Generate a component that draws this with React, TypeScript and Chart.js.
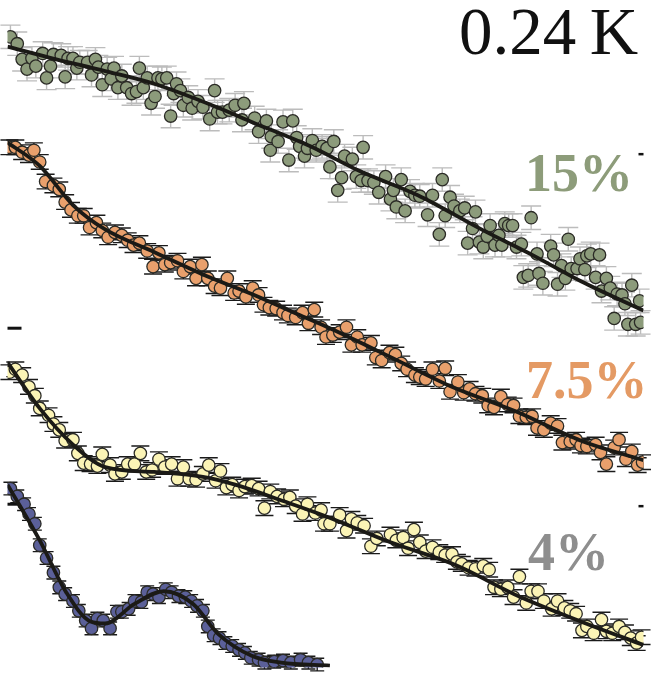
import React, { useEffect, useRef } from "react";
import { Chart, registerables } from "chart.js";

Chart.register(...registerables);

// ---- data (x: arbitrary units, y: offset intensity) ----
const green15: [number, number][] = [
  [0.03,6.45],[0.10,6.38],[0.15,6.22],[0.20,6.12],[0.25,6.23],[0.29,6.15],[0.36,6.28],[0.40,6.03],[0.44,6.15],[0.47,6.27],
  [0.55,6.26],[0.59,6.04],[0.62,6.23],[0.67,6.23],[0.71,6.13],[0.74,6.19],[0.82,6.19],[0.86,6.06],[0.90,6.22],[0.93,6.14],
  [0.97,5.96],[1.02,6.12],[1.06,6.02],[1.09,6.13],[1.13,5.93],[1.17,6.05],[1.22,5.93],[1.27,5.87],[1.32,5.89],[1.35,6.13],
  [1.39,5.93],[1.43,6.03],[1.47,5.77],[1.51,5.84],[1.54,6.03],[1.58,6.02],[1.63,6.03],[1.67,5.64],[1.70,5.87],[1.73,5.97],
  [1.77,5.90],[1.80,5.75],[1.85,5.83],[1.89,5.72],[1.95,5.79],[2.00,5.73],[2.07,5.61],[2.12,5.90],[2.15,5.68],
  [2.20,5.68],[2.27,5.70],[2.33,5.75],[2.42,5.77],[2.40,5.60],[2.53,5.62],[2.57,5.48],[2.65,5.59],[2.70,5.43],[2.69,5.29],
  [2.77,5.38],[2.82,5.58],[2.92,5.59],[2.88,5.19],[2.96,5.42],[2.99,5.33],[3.04,5.23],[3.07,5.31],[3.12,5.39],[3.16,5.29],
  [3.22,5.33],[3.27,5.31],[3.34,5.38],[3.30,5.12],[3.42,5.01],[3.38,4.88],[3.45,5.23],[3.53,5.20],[3.64,5.32],[3.57,5.02],
  [3.62,4.98],[3.69,4.98],[3.75,4.96],[3.80,4.86],[3.87,5.02],[3.92,4.79],[3.95,4.88],[3.98,4.71],[4.03,4.99],[4.07,4.67],
  [4.12,4.87],[4.17,4.83],
  [4.22,4.82],[4.30,4.63],[4.35,4.83],[4.45,4.99],[4.42,4.43],[4.48,4.62],[4.53,4.81],[4.57,4.72],[4.63,4.67],[4.68,4.70],
  [4.71,4.34],[4.76,4.49],[4.79,4.66],[4.83,4.35],[4.87,4.30],[4.91,4.41],[4.94,4.52],[4.99,4.32],[5.03,4.42],[5.06,4.32],
  [5.09,4.54],[5.13,4.52],[5.17,4.52],[5.21,4.30],[5.26,4.33],[5.28,3.99],[5.33,4.01],[5.36,4.60],[5.42,4.23],[5.44,4.03],
  [5.48,3.93],[5.56,4.31],[5.59,4.22],[5.63,3.92],[5.67,4.11],[5.71,3.98],[5.74,4.38],[5.77,4.08],[5.83,4.08],[5.86,4.18],
  [5.91,4.07],[5.93,4.21],[5.97,4.23],[6.02,3.99],[6.06,4.22],[6.08,3.85],[6.13,3.98],[6.17,3.88],[6.21,3.57],[6.24,3.82],
  [6.29,3.81],[6.32,3.72],[6.35,3.51],[6.39,3.91],[6.43,3.51],[6.47,3.75],[6.48,3.53],
];
const green15Fit: [number, number][] = [
  [0,6.35],[0.5,6.22],[1.0,6.10],[1.5,5.97],[2.17,5.72],[2.5,5.58],[3.1,5.33],[3.6,5.08],[4.2,4.83],[4.87,4.47],
  [5.37,4.22],[5.87,3.95],[6.51,3.65],
];
const green15Err = 0.12;

const orange75: [number, number][] = [
  [0.02,5.32],[0.08,5.32],[0.15,5.27],[0.22,5.24],[0.27,5.29],[0.33,5.17],[0.39,4.97],[0.47,4.93],[0.53,4.89],[0.59,4.76],
  [0.65,4.68],[0.72,4.62],[0.78,4.62],[0.84,4.50],[0.91,4.55],[0.97,4.47],[1.03,4.40],[1.10,4.45],[1.17,4.42],[1.23,4.37],
  [1.29,4.32],[1.35,4.34],[1.43,4.26],[1.49,4.10],[1.55,4.24],[1.61,4.12],[1.67,4.14],[1.74,4.16],[1.80,4.05],[1.87,4.10],
  [1.93,3.98],[1.99,4.12],[2.05,3.98],[2.12,3.90],[2.18,3.88],[2.25,3.98],[2.32,3.83],[2.37,3.85],[2.44,3.79],[2.51,3.88],
  [2.57,3.81],[2.62,3.71],[2.68,3.68],[2.75,3.67],[2.82,3.63],[2.87,3.60],[2.95,3.58],[3.02,3.63],[3.08,3.52],[3.14,3.66],
  [3.21,3.48],[3.26,3.38],
  [3.33,3.40],[3.40,3.43],[3.47,3.48],[3.52,3.30],[3.58,3.38],[3.63,3.30],[3.72,3.32],[3.77,3.17],[3.83,3.14],[3.91,3.22],
  [3.97,3.20],[4.03,3.11],[4.09,3.05],[4.17,2.99],[4.22,2.97],[4.28,2.95],[4.35,3.05],[4.42,2.93],[4.48,3.06],[4.53,2.82],
  [4.61,2.92],[4.67,2.81],[4.73,2.85],[4.79,2.80],[4.86,2.78],[4.92,2.68],[4.98,2.66],[5.05,2.77],[5.12,2.69],[5.18,2.68],
  [5.24,2.57],[5.31,2.56],[5.37,2.57],[5.42,2.45],[5.49,2.43],[5.56,2.50],[5.63,2.47],[5.68,2.30],[5.76,2.31],[5.82,2.33],
  [5.87,2.27],[5.93,2.26],[6.02,2.28],[6.07,2.20],[6.13,2.08],[6.21,2.25],[6.26,2.33],[6.33,2.13],[6.39,2.21],[6.45,2.07],
  [6.50,2.10],
];
const orange75Fit: [number, number][] = [
  [0,5.37],[0.33,5.13],[0.67,4.73],[1.0,4.48],[1.5,4.25],[2.0,4.02],[2.5,3.82],[3.0,3.60],[3.3,3.47],[3.87,3.20],
  [4.53,2.88],[5.2,2.62],[5.87,2.32],[6.51,2.12],
];
const orange75Err = 0.075;

const yellow4: [number, number][] = [
  [0.02,3.02],[0.08,3.05],[0.15,2.99],[0.22,2.87],[0.28,2.78],[0.33,2.65],[0.42,2.58],[0.47,2.49],[0.53,2.43],[0.59,2.32],
  [0.67,2.33],[0.72,2.19],[0.78,2.09],[0.85,2.08],[0.92,2.06],[0.97,2.18],[1.05,2.07],[1.10,1.98],[1.17,2.00],[1.23,2.08],
  [1.30,2.08],[1.36,2.19],[1.42,2.00],[1.48,2.02],[1.55,2.13],[1.61,2.05],[1.68,2.08],[1.74,1.93],[1.80,2.05],[1.86,1.93],
  [1.93,1.92],[2.00,1.98],[2.06,2.07],[2.13,1.91],[2.18,2.01],[2.24,1.84],[2.30,1.87],[2.37,1.81],[2.43,1.85],[2.50,1.86],
  [2.57,1.83],[2.63,1.63],[2.69,1.80],[2.76,1.75],[2.83,1.72],[2.89,1.74],[2.95,1.65],[3.02,1.57],[3.07,1.67],[3.15,1.58],
  [3.21,1.61],[3.24,1.47],
  [3.30,1.47],[3.40,1.56],[3.47,1.40],[3.52,1.52],[3.58,1.48],[3.65,1.45],[3.72,1.24],[3.78,1.32],[3.92,1.36],[3.98,1.30],
  [4.05,1.33],[4.10,1.22],[4.16,1.41],[4.22,1.28],[4.28,1.19],[4.35,1.23],[4.42,1.18],[4.48,1.15],[4.55,1.16],[4.60,1.08],
  [4.65,1.06],[4.72,1.02],[4.79,1.01],[4.87,1.04],[4.93,1.00],[4.98,0.82],[5.05,0.80],[5.12,0.82],[5.18,0.72],[5.24,0.93],
  [5.31,0.66],[5.36,0.78],[5.43,0.78],[5.49,0.68],[5.57,0.60],[5.63,0.68],[5.70,0.61],[5.76,0.58],[5.82,0.55],[5.88,0.38],
  [5.93,0.42],[6.00,0.35],[6.08,0.49],[6.13,0.37],[6.19,0.35],[6.26,0.42],[6.32,0.36],[6.38,0.30],[6.44,0.25],[6.49,0.31],
];
const yellow4Fit: [number, number][] = [
  [0,3.12],[0.33,2.65],[0.67,2.28],[1.0,2.05],[1.5,2.00],[2.0,1.95],[2.33,1.87],[2.83,1.70],[3.25,1.55],[3.92,1.28],
  [4.58,1.05],[5.25,0.72],[5.92,0.45],[6.51,0.23],
];
const yellow4Err = 0.075;

const blue: [number, number][] = [
  [0.03,1.83],[0.10,1.75],[0.17,1.67],[0.22,1.57],[0.28,1.47],[0.33,1.25],[0.40,1.12],[0.47,0.97],[0.53,0.82],[0.59,0.75],
  [0.67,0.68],[0.73,0.58],[0.80,0.48],[0.86,0.40],[0.92,0.50],[0.98,0.48],[1.05,0.40],[1.12,0.57],[1.17,0.57],[1.24,0.60],
  [1.30,0.68],[1.37,0.67],[1.43,0.77],[1.49,0.75],[1.55,0.72],[1.62,0.80],[1.68,0.77],[1.75,0.73],[1.82,0.72],[1.88,0.68],
  [1.94,0.63],[2.00,0.58],[2.05,0.42],[2.11,0.33],[2.17,0.30],[2.23,0.25],[2.30,0.22],[2.37,0.18],[2.43,0.15],[2.49,0.10],
  [2.57,0.08],[2.63,0.05],[2.73,0.06],[2.82,0.07],[2.90,0.05],[3.00,0.08],[3.08,0.05],[3.17,0.03],
];
const blueFit: [number, number][] = [
  [0,1.87],[0.33,1.30],[0.60,0.77],[0.85,0.47],[1.0,0.45],[1.3,0.65],[1.6,0.78],[1.9,0.65],[2.15,0.35],[2.5,0.12],
  [2.8,0.05],[3.3,0.02],
];
const blueErr = 0.065;

const leftTicks = [3.47, 1.67];
const rightTicks = [5.25, 1.65];

const X_MIN = 0, X_MAX = 6.51, Y_MIN = 0, Y_MAX = 6.75;

const toPts = (arr: [number, number][]) => arr.map(([x, y]) => ({ x, y }));

const errorBarPlugin = {
  id: "errorBars",
  beforeDatasetsDraw(chart: any) {
    const { ctx } = chart;
    const xs = chart.scales.x;
    const ys = chart.scales.y;
    ctx.save();
    chart.data.datasets.forEach((ds: any) => {
      if (!ds.errY) return;
      ctx.strokeStyle = ds.errColor;
      ctx.lineWidth = ds.errWidth;
      ds.data.forEach((p: any) => {
        const px = xs.getPixelForValue(p.x);
        const top = ys.getPixelForValue(p.y + ds.errY);
        const bot = ys.getPixelForValue(p.y - ds.errY);
        const c = ds.capHalf;
        ctx.beginPath();
        ctx.moveTo(px, top);
        ctx.lineTo(px, bot);
        ctx.moveTo(px - c, top);
        ctx.lineTo(px + c, top);
        ctx.moveTo(px - c, bot);
        ctx.lineTo(px + c, bot);
        ctx.stroke();
      });
    });
    // axis tick stubs from the surrounding frame
    ctx.strokeStyle = "#111";
    ctx.lineWidth = 3;
    leftTicks.forEach((v) => {
      const y = ys.getPixelForValue(v);
      ctx.beginPath();
      ctx.moveTo(chart.chartArea.left, y);
      ctx.lineTo(chart.chartArea.left + 14, y);
      ctx.stroke();
    });
    ctx.lineWidth = 2.5;
    rightTicks.forEach((v) => {
      const y = ys.getPixelForValue(v);
      ctx.beginPath();
      ctx.moveTo(chart.chartArea.right - 5, y);
      ctx.lineTo(chart.chartArea.right, y);
      ctx.stroke();
    });
    ctx.restore();
  },
};

function scatterDs(data: [number, number][], fill: string, err: number, errColor: string, capHalf: number, errWidth: number) {
  return {
    type: "scatter" as const,
    data: toPts(data),
    backgroundColor: fill,
    borderColor: "#2b2b26",
    borderWidth: 1.3,
    pointRadius: 6.2,
    showLine: false,
    order: 2,
    errY: err,
    errColor,
    capHalf,
    errWidth,
  };
}

function fitDs(data: [number, number][]) {
  return {
    type: "line" as const,
    data: toPts(data),
    borderColor: "#1b1a16",
    borderWidth: 3.8,
    pointRadius: 0,
    showLine: true,
    fill: false,
    cubicInterpolationMode: "monotone" as const,
    order: 1,
  };
}

export default function App() {
  const ref = useRef<HTMLCanvasElement>(null);
  useEffect(() => {
    if (!ref.current) return;
    const chart = new Chart(ref.current, {
      type: "scatter",
      data: {
        datasets: [
          fitDs(green15Fit),
          fitDs(orange75Fit),
          fitDs(yellow4Fit),
          fitDs(blueFit),
          scatterDs(green15, "#8c9b7b", green15Err, "#bcbcbc", 10, 1.4),
          scatterDs(orange75, "#e9a06c", orange75Err, "#1a1a1a", 9, 1.4),
          scatterDs(yellow4, "#fbf4b6", yellow4Err, "#1a1a1a", 9, 1.4),
          scatterDs(blue, "#5b6099", blueErr, "#1a1a1a", 7, 1.4),
        ] as any,
      },
      options: {
        animation: false,
        responsive: true,
        maintainAspectRatio: false,
        layout: { padding: 0 },
        plugins: { legend: { display: false }, tooltip: { enabled: false } },
        scales: {
          x: { type: "linear", display: false, min: X_MIN, max: X_MAX },
          y: { type: "linear", display: false, min: Y_MIN, max: Y_MAX },
        },
      },
      plugins: [errorBarPlugin],
    });
    return () => chart.destroy();
  }, []);

  const label = (text: string, left: number, top: number, size: number, color: string, weight: string) => (
    <div
      style={{
        position: "absolute",
        left,
        top,
        fontFamily: "'Liberation Serif', 'Times New Roman', serif",
        fontSize: size,
        lineHeight: 1,
        fontWeight: weight as any,
        color,
        whiteSpace: "nowrap",
      }}
    >
      {text}
    </div>
  );

  return (
    <div style={{ position: "absolute", left: 0, top: 0, width: 651, height: 675, background: "#fff", overflow: "hidden" }}>
      <canvas ref={ref} />
      {label("0.24\u2009K", 459, -2, 67, "#111", "normal")}
      {label("15%", 525, 146, 54, "#8d9c7a", "bold")}
      {label("7.5%", 526, 353, 54, "#e49a64", "bold")}
      {label("4%", 528, 525, 54, "#8e8e8e", "bold")}
    </div>
  );
}
